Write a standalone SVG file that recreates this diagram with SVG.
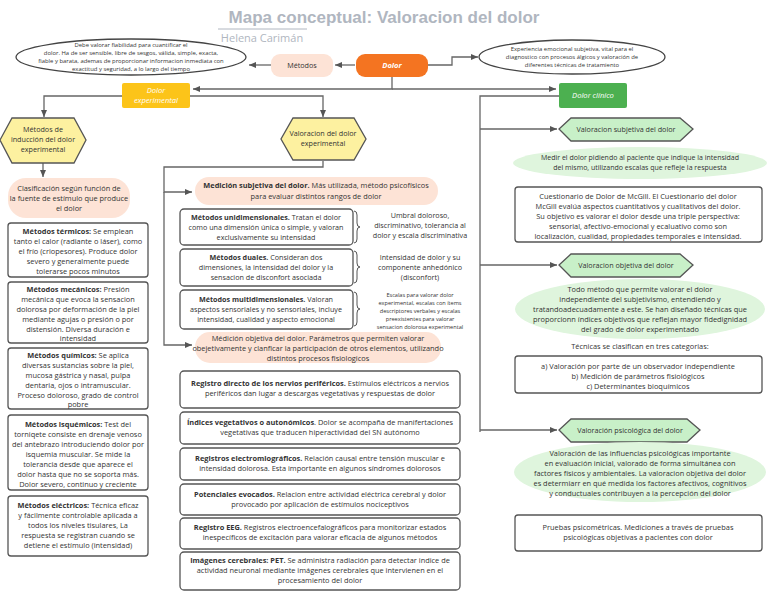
<svg xmlns="http://www.w3.org/2000/svg" width="768" height="594" viewBox="0 0 768 594">
<defs>
<marker id="ar" markerWidth="8" markerHeight="8" refX="7" refY="4" orient="auto" markerUnits="userSpaceOnUse"><path d="M0,1 L7,4 L0,7 Z" fill="#555"/></marker>
<style>
text{font-family:"Open Sans","Liberation Sans",sans-serif;fill:#333;font-size:7.2px;text-anchor:middle}
.t{font-size:7.4px}
.s{font-size:5.9px}
.b{font-weight:bold}
.box{fill:#fff;stroke:#555;stroke-width:1.3}
.peach{fill:#fde3d6;stroke:none}
.hexy{fill:#fdf1a0;stroke:#555;stroke-width:1.3}
.hexg{fill:#c8f0c8;stroke:#555;stroke-width:1.3}
.ellg{fill:#dff5dd;stroke:none}
.ell{fill:#fff;stroke:#444;stroke-width:1.3}
.c{fill:none;stroke:#666;stroke-width:1.3}
.w{fill:#fff;font-style:italic;font-size:7.6px}
.brace{fill:none;stroke:#555;stroke-width:1}
</style>
</defs>
<rect width="768" height="594" fill="#fff"/>
<text x="384" y="23" style="font-size:17px;font-weight:bold;fill:#b0b6c0;font-family:'Liberation Sans',sans-serif">Mapa conceptual: Valoracion del dolor</text>
<line x1="218" y1="29" x2="307" y2="29" stroke="#b0b6c0" stroke-width="1"/>
<text x="262" y="42" style="font-size:11px;fill:#b0b6c0">Helena Carimán</text>

<g id="connectors">
<path class="c" d="M355,65 H335" marker-end="url(#ar)"/>
<path class="c" d="M271,65 H249" marker-end="url(#ar)"/>
<path class="c" d="M428,65 H452 V57 H478" marker-end="url(#ar)"/>
<path class="c" d="M392,77 V89 H193" marker-end="url(#ar)"/>
<path class="c" d="M392,89 H556" marker-end="url(#ar)"/>
<path class="c" d="M122,96 H44 V117" marker-end="url(#ar)"/>
<path class="c" d="M190,96 H323 V117" marker-end="url(#ar)"/>
<path class="c" d="M43,163 V177" marker-end="url(#ar)"/>
<path class="c" d="M323,161 V167 H164 V192 H192" marker-end="url(#ar)"/>
<path class="c" d="M164,192 V345 H192" marker-end="url(#ar)"/>
<path class="c" d="M559,96 H480 V432"/>
<path class="c" d="M480,129 H557" marker-end="url(#ar)"/>
<path class="c" d="M480,265 H557" marker-end="url(#ar)"/>
<path class="c" d="M480,430 H557" marker-end="url(#ar)"/>
</g>

<g id="n-left-ellipse">
<ellipse class="ell" cx="131" cy="57" rx="115" ry="18"/>
<text class="s" x="131" y="47">Debe valorar fiabilidad para cuantificar el</text>
<text class="s" x="131" y="55">dolor. Ha de ser sensible, libre de sesgos, válida, simple, exacta,</text>
<text class="s" x="131" y="63">fiable y barata, ademas de proporcionar informacion inmediata con</text>
<text class="s" x="131" y="71">exactitud y seguridad, a lo largo del tiempo</text>
</g>
<g id="n-metodos">
<rect class="peach" x="271" y="54" width="62" height="23" rx="9"/>
<text x="302" y="68">Métodos</text>
</g>
<g id="n-dolor">
<rect x="356" y="54" width="72" height="23" rx="9" fill="#f47421"/>
<text class="w b" x="392" y="68">Dolor</text>
</g>
<g id="n-right-ellipse">
<ellipse class="ell" cx="572" cy="57" rx="93" ry="17"/>
<text class="s" x="572" y="51">Experiencia emocional subjetiva, vital para el</text>
<text class="s" x="572" y="59">diagnostico con procesos álgicos y valoración de</text>
<text class="s" x="572" y="67">diferentes técnicas de tratamiento</text>
</g>
<g id="n-dolor-exp">
<rect x="122" y="83" width="68" height="25" rx="2" fill="#fcc419"/>
<text class="w" x="156" y="93">Dolor</text>
<text class="w" x="156" y="103">experimental</text>
</g>
<g id="n-dolor-clin">
<rect x="559" y="83" width="68" height="25" rx="2" fill="#4cb050"/>
<text class="w" x="593" y="98">Dolor clínico</text>
</g>

<g id="n-hex1">
<polygon class="hexy" points="12,118 74,118 86,140 74,163 12,163 0,140"/>
<text x="43" y="132">Métodos de</text>
<text x="43" y="142">inducción  del dolor</text>
<text x="43" y="152">experimental</text>
</g>
<g id="n-hex2">
<polygon class="hexy" points="293,118 354,118 366,139 354,160 293,160 281,139"/>
<text x="323" y="136">Valoracion del dolor</text>
<text x="323" y="146">experimental</text>
</g>
<g id="n-clasif">
<rect class="peach" x="8" y="178" width="122" height="40" rx="18"/>
<text class="t" x="69" y="191">Clasificación según función de</text>
<text class="t" x="69" y="201">la fuente de estímulo que produce</text>
<text class="t" x="69" y="211">el dolor</text>
</g>
<g id="n-termicos">
<rect class="box" x="8" y="223" width="140" height="54" rx="3"/>
<text class="t" x="78" y="234"><tspan class="b">Métodos térmicos:</tspan> Se emplean</text>
<text class="t" x="78" y="244">tanto el calor (radiante o láser), como</text>
<text class="t" x="78" y="254">el frío (criopesores). Produce dolor</text>
<text class="t" x="78" y="264">severo y generalmente puede</text>
<text class="t" x="78" y="274">tolerarse pocos minutos</text>
</g>
<g id="n-mecanicos">
<rect class="box" x="8" y="282" width="140" height="61" rx="3"/>
<text class="t" x="78" y="292"><tspan class="b">Métodos mecánicos:</tspan> Presión</text>
<text class="t" x="78" y="302">mecánica que evoca la sensacion</text>
<text class="t" x="78" y="312">dolorosa por deformación de la piel</text>
<text class="t" x="78" y="322">mediante agujas o presión o por</text>
<text class="t" x="78" y="332">distensión. Diversa duración e</text>
<text class="t" x="78" y="341">intensidad</text>
</g>
<g id="n-quimicos">
<rect class="box" x="8" y="348" width="140" height="61" rx="3"/>
<text class="t" x="78" y="358"><tspan class="b">Métodos químicos:</tspan> Se aplica</text>
<text class="t" x="78" y="368">diversas sustancias sobre la piel,</text>
<text class="t" x="78" y="378">mucosa gástrica y nasal, pulpa</text>
<text class="t" x="78" y="388">dentaria, ojos o intramuscular.</text>
<text class="t" x="78" y="398">Proceso doloroso, grado de control</text>
<text class="t" x="78" y="407">pobre</text>
</g>
<g id="n-isquemicos">
<rect class="box" x="8" y="415" width="140" height="75" rx="3"/>
<text class="t" x="78" y="427"><tspan class="b">Métodos isquémicos:</tspan> Test del</text>
<text class="t" x="78" y="437">torniqete consiste en drenaje venoso</text>
<text class="t" x="78" y="447">del antebrazo introduciendo dolor por</text>
<text class="t" x="78" y="457">isquemia muscular. Se mide la</text>
<text class="t" x="78" y="467">tolerancia desde que aparece el</text>
<text class="t" x="78" y="477">dolor hasta que no se soporta más.</text>
<text class="t" x="78" y="487">Dolor severo, continuo y creciente</text>
</g>
<g id="n-electricos">
<rect class="box" x="8" y="496" width="140" height="60" rx="3"/>
<text class="t" x="78" y="508"><tspan class="b">Métodos eléctricos:</tspan> Técnica eficaz</text>
<text class="t" x="78" y="518">y fácilmente controlable aplicada a</text>
<text class="t" x="78" y="528">todos los niveles tisulares, La</text>
<text class="t" x="78" y="538">respuesta se registran cuando se</text>
<text class="t" x="78" y="548">detiene el estímulo (intensidad)</text>
</g>

<g id="n-med-subj">
<rect class="peach" x="195" y="177" width="243" height="28" rx="14"/>
<text class="t" x="316" y="188"><tspan class="b">Medición subjetiva del dolor.</tspan> Más utilizada, método psicofísicos</text>
<text class="t" x="316" y="199">para evaluar distintos rangos de dolor</text>
</g>
<g id="n-unidim">
<rect class="box" x="180" y="209" width="173" height="36" rx="4"/>
<text x="266" y="220"><tspan class="b">Métodos unidimensionales.</tspan> Tratan el dolor</text>
<text x="266" y="230">como una dimensión única o simple, y valoran</text>
<text x="266" y="240">exclusivamente su intensidad</text>
<path class="brace" d="M354,211 q3,0 3,4 v8 q0,4 3,4 q-3,0 -3,4 v8 q0,4 -3,4"/>
<text x="420" y="218">Umbral doloroso,</text>
<text x="420" y="228">discriminativo, tolerancia al</text>
<text x="420" y="238">dolor y escala discriminativa</text>
</g>
<g id="n-duales">
<rect class="box" x="180" y="249" width="173" height="37" rx="4"/>
<text x="266" y="260"><tspan class="b">Métodos duales.</tspan> Consideran dos</text>
<text x="266" y="270">dimensiones, la intensidad del dolor y la</text>
<text x="266" y="280">sensacion de disconfort asociada</text>
<path class="brace" d="M354,251 q3,0 3,4 v8 q0,4 3,4 q-3,0 -3,4 v8 q0,4 -3,4"/>
<text x="420" y="260">Intensidad de dolor y su</text>
<text x="420" y="270">componente anhedónico</text>
<text x="420" y="280">(disconfort)</text>
</g>
<g id="n-multidim">
<rect class="box" x="180" y="290" width="173" height="39" rx="4"/>
<text x="266" y="302"><tspan class="b">Métodos multidimensionales.</tspan> Valoran</text>
<text x="266" y="312">aspectos sensoriales y no sensoriales, incluye</text>
<text x="266" y="322">intensidad, cualidad y aspecto emocional</text>
<path class="brace" d="M354,292 q3,0 3,4 v9 q0,4 3,4 q-3,0 -3,4 v9 q0,4 -3,4"/>
<text x="420" y="297" style="font-size:5.6px">Escalas para valorar dolor</text>
<text x="420" y="305" style="font-size:5.6px">experimental, escalas con ítems</text>
<text x="420" y="313" style="font-size:5.6px">descriptores verbales y escalas</text>
<text x="420" y="321" style="font-size:5.6px">preexistentes para valorar</text>
<text x="420" y="329" style="font-size:5.6px">sensacion dolorosa experimental</text>
</g>
<g id="n-med-obj">
<rect class="peach" x="195" y="332" width="246" height="31" rx="15"/>
<text class="t" x="318" y="341">Médición objetiva del dolor. Parámetros que permiten valorar</text>
<text class="t" x="318" y="351">obejetivamente y clanficar la participación de otros elementos, utilizando</text>
<text class="t" x="318" y="361">distintos procesos fisiologicos</text>
</g>
<g id="n-reg1">
<rect class="box" x="180" y="371" width="280" height="37" rx="4"/>
<text class="t" x="320" y="386"><tspan class="b">Registro directo de los nervios periféricos.</tspan> Estímulos eléctricos a nervios</text>
<text class="t" x="320" y="396">periféricos dan lugar a descargas vegetativas y respuestas de dolor</text>
</g>
<g id="n-reg2">
<rect class="box" x="180" y="412" width="280" height="32" rx="4"/>
<text class="t" x="320" y="425"><tspan class="b">Índices vegetativos o autonómicos</tspan>. Dolor se acompaña de manifertaciones</text>
<text class="t" x="320" y="435">vegetativas que traducen hiperactividad del SN autónomo</text>
</g>
<g id="n-reg3">
<rect class="box" x="180" y="448" width="280" height="32" rx="4"/>
<text class="t" x="320" y="461"><tspan class="b">Registros electromiográficos.</tspan> Relación causal entre tensión muscular e</text>
<text class="t" x="320" y="471">intensidad dolorosa. Esta importante en algunos síndromes dolorosos</text>
</g>
<g id="n-reg4">
<rect class="box" x="180" y="484" width="280" height="31" rx="4"/>
<text class="t" x="320" y="497"><tspan class="b">Potenciales evocados.</tspan> Relacion entre actividad eléctrica cerebral y dolor</text>
<text class="t" x="320" y="507">provocado por aplicación de estímulos nociceptivos</text>
</g>
<g id="n-reg5">
<rect class="box" x="180" y="518" width="280" height="31" rx="4"/>
<text class="t" x="320" y="530"><tspan class="b">Registro EEG.</tspan> Registros electroencefalográficos para monitorizar estados</text>
<text class="t" x="320" y="540">inespecíficos de excitación para valorar eficacia de algunos métodos</text>
</g>
<g id="n-reg6">
<rect class="box" x="180" y="552" width="280" height="38" rx="4"/>
<text class="t" x="320" y="563"><tspan class="b">Imágenes cerebrales: PET.</tspan> Se administra radiación para detectar indice de</text>
<text class="t" x="320" y="573">actividad neuronal mediante imágenes cerebrales que intervienen en el</text>
<text class="t" x="320" y="583">procesamiento del dolor</text>
</g>

<g id="n-val-subj">
<polygon class="hexg" points="571,118 680,118 693,129 680,141 571,141 559,129"/>
<text x="626" y="132">Valoracion subjetiva del dolor</text>
</g>
<g id="n-medir">
<ellipse class="ellg" cx="640" cy="163" rx="127" ry="16"/>
<text class="t" x="640" y="160" style="font-size:7px">Medir el dolor pidiendo al paciente que indique la intensidad</text>
<text class="t" x="640" y="170" style="font-size:7px">del mismo, utilizando escalas que refleje la respuesta</text>
</g>
<g id="n-mcgill">
<rect class="box" x="515" y="187" width="247" height="55" rx="3"/>
<text class="t" x="638" y="199">Cuestionario de Dolor de McGill. El Cuestionario del dolor</text>
<text class="t" x="638" y="209">McGill evalúa aspectos cuantitativos y cualitativos del dolor.</text>
<text class="t" x="638" y="219">Su objetivo es valorar el dolor desde una triple perspectiva:</text>
<text class="t" x="638" y="229">sensorial, afectivo-emocional y ecaluativo como son</text>
<text class="t" x="638" y="239">localización, cualidad, propiedades temporales e intensidad.</text>
</g>
<g id="n-val-obj">
<polygon class="hexg" points="571,254 680,254 693,265 680,277 571,277 559,265"/>
<text x="626" y="268">Valoracion objetiva del dolor</text>
</g>
<g id="n-todo">
<ellipse class="ellg" cx="640" cy="309" rx="125" ry="30"/>
<text class="t" x="640" y="292">Todo método que permite valorar el dolor</text>
<text class="t" x="640" y="302">independiente del subjetivismo, entendiendo y</text>
<text class="t" x="640" y="312">tratandoadecuadamente a este. Se han diseñado técnicas que</text>
<text class="t" x="640" y="322">proporcionn índices objetivos que reflejan mayor fidedignidad</text>
<text class="t" x="640" y="332">del grado de dolor experimentado</text>
</g>
<g id="n-tecnicas">
<text class="t" x="640" y="349">Técnicas se clasifican en tres categorias:</text>
</g>
<g id="n-abc">
<rect class="box" x="515" y="356" width="247" height="37" rx="3"/>
<text class="t" x="638" y="369">a) Valoración por parte de un observador independiente</text>
<text class="t" x="638" y="379">b) Medición de parámetros fisiológicos</text>
<text class="t" x="638" y="389">c) Determinantes bioquímicos</text>
</g>
<g id="n-val-psi">
<polygon class="hexg" points="571,419 687,419 700,430 687,442 571,442 559,430"/>
<text x="630" y="433">Valoración psicológica del dolor</text>
</g>
<g id="n-influ">
<ellipse class="ellg" cx="640" cy="472" rx="126" ry="30"/>
<text class="t" x="640" y="456">Valoración de las influencias psicológicas importante</text>
<text class="t" x="640" y="466">en evaluación inicial, valorado de forma simultánea con</text>
<text class="t" x="640" y="476">factores físicos y ambientales. La valoracion objetiva del dolor</text>
<text class="t" x="640" y="486">es determiarr en qué medida los factores afectivos, cognitivos</text>
<text class="t" x="640" y="496">y conductuales contribuyen a la percepción del dolor</text>
</g>
<g id="n-pruebas">
<rect class="box" x="515" y="515" width="247" height="36" rx="3"/>
<text class="t" x="638" y="530">Pruebas psicométricas. Mediciones a través de pruebas</text>
<text class="t" x="638" y="540">psicológicas objetivas a pacientes con dolor</text>
</g>
</svg>
